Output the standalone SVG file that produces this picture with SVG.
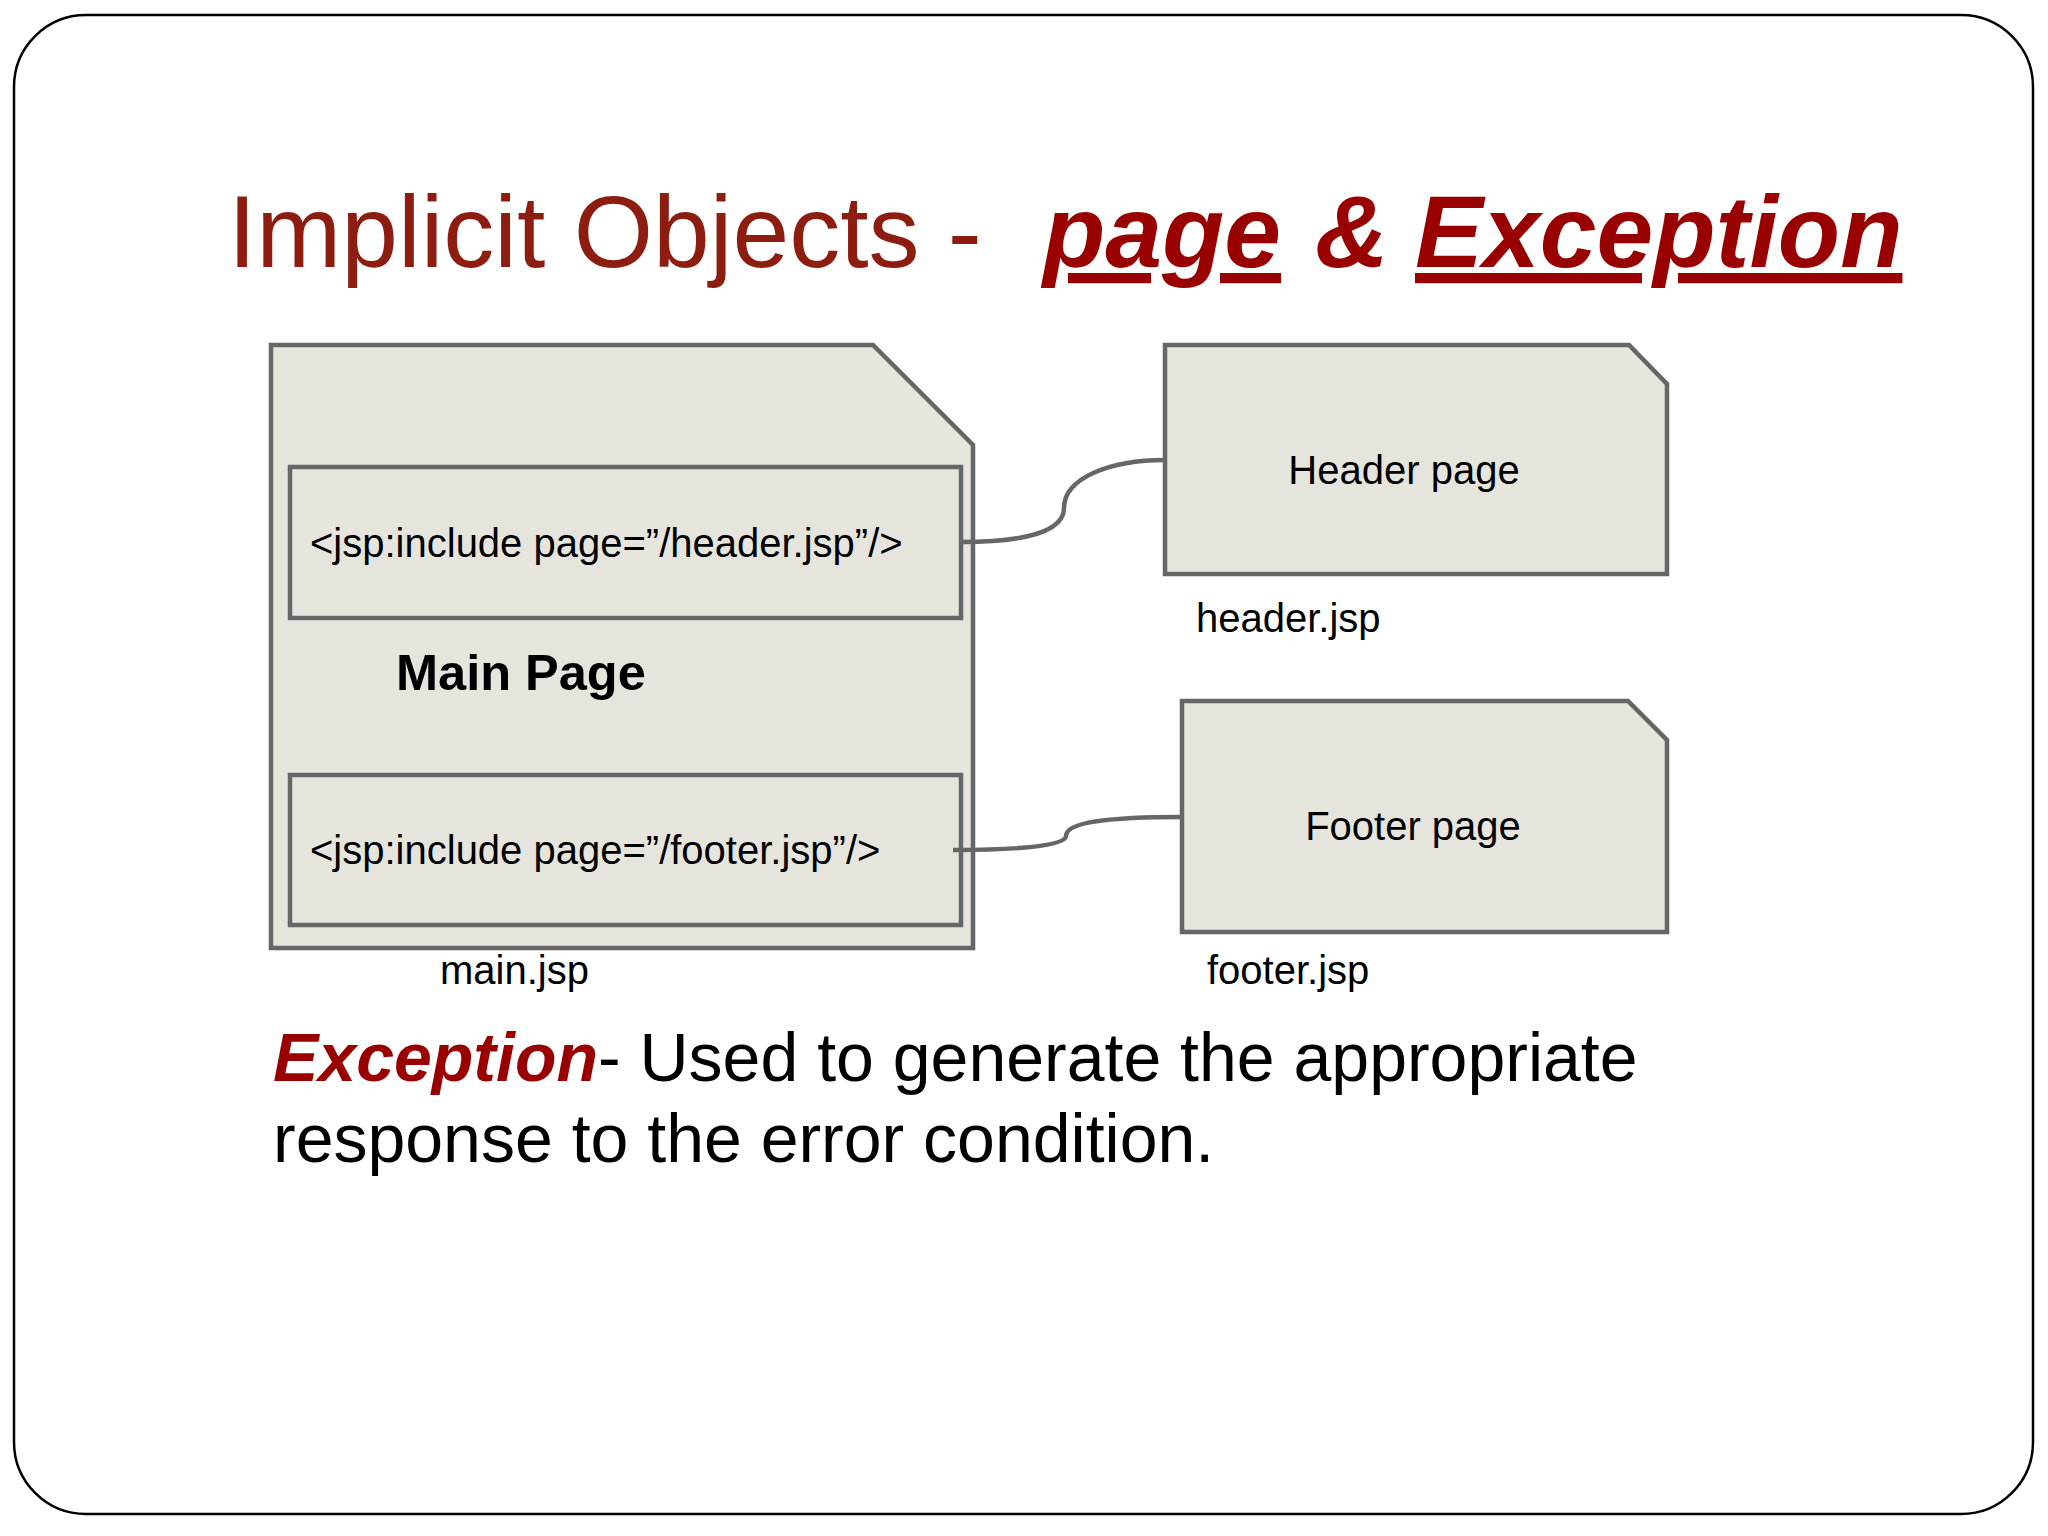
<svg xmlns="http://www.w3.org/2000/svg" width="2048" height="1536" viewBox="0 0 2048 1536">
<defs>
<style>
.frame{fill:#ffffff;stroke:#000000;stroke-width:2.5}
.box{fill:#E6E5DD;stroke:#666666;stroke-width:4.5;stroke-linejoin:miter}
.conn{fill:none;stroke:#666666;stroke-width:4.5}
.t{font-family:"Liberation Sans",Arial,sans-serif;fill:#000000}
.lbl{font-size:40px}
.title{font-family:"Liberation Sans",Arial,sans-serif;font-size:102px}
.red{fill:#990000;font-weight:bold;font-style:italic}
</style>
</defs>
<rect width="2048" height="1536" fill="#ffffff"/>
<rect class="frame" x="14" y="15" width="2019" height="1499" rx="72" ry="72"/>

<g id="title">
<text class="title" y="267"><tspan x="228" fill="#8C1D10">Implicit Objects -</tspan><tspan class="red" x="1043" text-decoration="underline">page</tspan><tspan class="red" x="1315">&amp;</tspan><tspan class="red" x="1415" text-decoration="underline">Exception</tspan></text>
</g>

<g id="main-page">
<path class="box" d="M271 345 L873 345 L973 445 L973 948 L271 948 Z"/>
<text class="t" x="396" y="690" font-size="50.5" font-weight="bold">Main Page</text>
<text class="t lbl" x="440" y="984">main.jsp</text>
</g>

<g id="include-header">
<rect class="box" x="290" y="467" width="671" height="151"/>
<text class="t lbl" x="310" y="557">&lt;jsp:include page=”/header.jsp”/&gt;</text>
</g>

<g id="include-footer">
<rect class="box" x="290" y="775" width="671" height="150"/>
<text class="t lbl" x="310" y="864">&lt;jsp:include page=”/footer.jsp”/&gt;</text>
</g>

<g id="header-page">
<path class="box" d="M1165 345 L1629 345 L1667 384 L1667 574 L1165 574 Z"/>
<text class="t lbl" x="1404" y="484" text-anchor="middle">Header page</text>
<text class="t lbl" x="1196" y="632">header.jsp</text>
</g>

<g id="footer-page">
<path class="box" d="M1182 701 L1628 701 L1667 740 L1667 932 L1182 932 Z"/>
<text class="t lbl" x="1413" y="840" text-anchor="middle">Footer page</text>
<text class="t lbl" x="1207" y="984">footer.jsp</text>
</g>

<g id="connectors">
<path class="conn" d="M961 542 C1030 542 1064 530 1064 508 C1064 478 1110 460 1165 460"/>
<path class="conn" d="M953 850 C1020 850 1066 846 1066 836 C1066 822 1110 817 1182 817"/>
</g>

<g id="description">
<text class="t" x="273" y="1081" font-size="68"><tspan class="red">Exception</tspan>- Used to generate the appropriate</text>
<text class="t" x="273" y="1162" font-size="68">response to the error condition.</text>
</g>
</svg>
